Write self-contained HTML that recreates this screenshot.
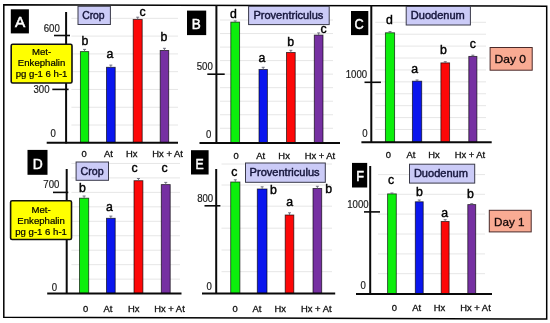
<!DOCTYPE html>
<html><head><meta charset="utf-8"><title>Met-Enkephalin</title>
<style>html,body{margin:0;padding:0;background:#fff;width:550px;height:323px;overflow:hidden}svg{display:block}text{font-family:"Liberation Sans",Arial,sans-serif}</style>
</head><body>
<svg width="550" height="323" viewBox="0 0 550 323">
<rect width="550" height="323" fill="#fff"/>
<path d="M3.8 4.8 L546.7 6.2 L546.7 319.1 L3.8 317.2 Z" fill="none" stroke="#000" stroke-width="1.5"/>
<line x1="71.40" y1="125.02" x2="178.00" y2="125.02" stroke="#e6e6e6" stroke-width="1" />
<line x1="71.40" y1="107.24" x2="178.00" y2="107.24" stroke="#e6e6e6" stroke-width="1" />
<line x1="71.40" y1="89.46" x2="178.00" y2="89.46" stroke="#e6e6e6" stroke-width="1" />
<line x1="71.40" y1="71.68" x2="178.00" y2="71.68" stroke="#e6e6e6" stroke-width="1" />
<line x1="71.40" y1="53.90" x2="178.00" y2="53.90" stroke="#e6e6e6" stroke-width="1" />
<line x1="71.40" y1="36.12" x2="178.00" y2="36.12" stroke="#e6e6e6" stroke-width="1" />
<line x1="71.40" y1="18.34" x2="178.00" y2="18.34" stroke="#e6e6e6" stroke-width="1" />
<rect x="80.40" y="51.60" width="8.30" height="91.00" fill="#0cef0c" stroke="rgba(0,0,0,0.7)" stroke-width="0.9" rx="0" />
<line x1="84.55" y1="49.40" x2="84.55" y2="51.60" stroke="#606070" stroke-width="0.85" />
<line x1="83.05" y1="49.40" x2="86.05" y2="49.40" stroke="#606070" stroke-width="0.85" />
<rect x="106.50" y="67.30" width="8.70" height="75.30" fill="#0a16ee" stroke="rgba(0,0,0,0.7)" stroke-width="0.9" rx="0" />
<line x1="110.85" y1="65.10" x2="110.85" y2="67.30" stroke="#606070" stroke-width="0.85" />
<line x1="109.35" y1="65.10" x2="112.35" y2="65.10" stroke="#606070" stroke-width="0.85" />
<rect x="133.20" y="19.40" width="9.00" height="123.20" fill="#fd0808" stroke="rgba(0,0,0,0.7)" stroke-width="0.9" rx="0" />
<line x1="137.70" y1="17.20" x2="137.70" y2="19.40" stroke="#606070" stroke-width="0.85" />
<line x1="136.20" y1="17.20" x2="139.20" y2="17.20" stroke="#606070" stroke-width="0.85" />
<rect x="160.20" y="50.50" width="8.50" height="92.10" fill="#7630a2" stroke="rgba(0,0,0,0.7)" stroke-width="0.9" rx="0" />
<line x1="164.45" y1="48.30" x2="164.45" y2="50.50" stroke="#606070" stroke-width="0.85" />
<line x1="162.95" y1="48.30" x2="165.95" y2="48.30" stroke="#606070" stroke-width="0.85" />
<line x1="66.10" y1="12.00" x2="66.10" y2="143.50" stroke="#0a0a0a" stroke-width="2" />
<line x1="46.70" y1="142.70" x2="178.00" y2="142.70" stroke="#0a0a0a" stroke-width="2" />
<line x1="54.00" y1="35.50" x2="70.00" y2="35.50" stroke="#0a0a0a" stroke-width="1.6" />
<line x1="52.30" y1="89.40" x2="68.60" y2="89.40" stroke="#0a0a0a" stroke-width="1.6" />
<text x="59.80" y="32.30" font-size="10.1" text-anchor="end" fill="#1a1a1a" textLength="16.05" lengthAdjust="spacingAndGlyphs"  stroke="#1a1a1a" stroke-width="0.18">600</text>
<text x="49.50" y="93.30" font-size="10.1" text-anchor="end" fill="#1a1a1a" textLength="16.05" lengthAdjust="spacingAndGlyphs"  stroke="#1a1a1a" stroke-width="0.18">300</text>
<text x="55.90" y="137.00" font-size="10.1" text-anchor="end" fill="#1a1a1a" textLength="5.35" lengthAdjust="spacingAndGlyphs"  stroke="#1a1a1a" stroke-width="0.18">0</text>
<rect x="10.80" y="9.30" width="18.10" height="24.10" fill="#000" stroke="none" stroke-width="0" rx="0" />
<text x="20.10" y="27.20" font-size="14.6" text-anchor="middle" fill="#fff" textLength="10.20" lengthAdjust="spacingAndGlyphs"  stroke="#fff" stroke-width="0.5">A</text>
<rect x="78.00" y="6.30" width="32.40" height="18.20" fill="#cbcbf7" stroke="#3a3a4a" stroke-width="1" rx="0" />
<text x="93.40" y="18.50" font-size="10.3" text-anchor="middle" fill="#16163c" textLength="22.50" lengthAdjust="spacingAndGlyphs"  stroke="#16163c" stroke-width="0.42">Crop</text>
<rect x="11.20" y="44.30" width="60.80" height="38.70" fill="#ffff00" stroke="#111" stroke-width="1.6" rx="1.5" />
<text x="41.60" y="54.80" font-size="9.6" text-anchor="middle" fill="#000"  stroke="#000" stroke-width="0.2">Met-</text>
<text x="41.60" y="65.90" font-size="9.6" text-anchor="middle" fill="#000"  stroke="#000" stroke-width="0.2">Enkephalin</text>
<text x="41.60" y="77.10" font-size="9.6" text-anchor="middle" fill="#000"  stroke="#000" stroke-width="0.2">pg g-1 6 h-1</text>
<text x="85.00" y="44.80" font-size="12.3" text-anchor="middle" fill="#000"  stroke="#000" stroke-width="0.4">b</text>
<text x="110.00" y="57.50" font-size="12.3" text-anchor="middle" fill="#000"  stroke="#000" stroke-width="0.4">a</text>
<text x="142.50" y="16.00" font-size="12.3" text-anchor="middle" fill="#000"  stroke="#000" stroke-width="0.4">c</text>
<text x="163.80" y="40.90" font-size="12.3" text-anchor="middle" fill="#000"  stroke="#000" stroke-width="0.4">b</text>
<text x="84.10" y="156.60" font-size="9.4" text-anchor="middle" fill="#111"  stroke="#111" stroke-width="0.32">0</text>
<text x="108.50" y="156.60" font-size="9.4" text-anchor="middle" fill="#111"  stroke="#111" stroke-width="0.32">At</text>
<text x="131.70" y="156.60" font-size="9.4" text-anchor="middle" fill="#111"  stroke="#111" stroke-width="0.32">Hx</text>
<text x="167.60" y="156.60" font-size="9.4" text-anchor="middle" fill="#111"  stroke="#111" stroke-width="0.32">Hx + At</text>
<line x1="220.00" y1="128.27" x2="333.00" y2="128.27" stroke="#e6e6e6" stroke-width="1" />
<line x1="220.00" y1="114.74" x2="333.00" y2="114.74" stroke="#e6e6e6" stroke-width="1" />
<line x1="220.00" y1="101.21" x2="333.00" y2="101.21" stroke="#e6e6e6" stroke-width="1" />
<line x1="220.00" y1="87.68" x2="333.00" y2="87.68" stroke="#e6e6e6" stroke-width="1" />
<line x1="220.00" y1="74.15" x2="333.00" y2="74.15" stroke="#e6e6e6" stroke-width="1" />
<line x1="220.00" y1="60.62" x2="333.00" y2="60.62" stroke="#e6e6e6" stroke-width="1" />
<line x1="220.00" y1="47.09" x2="333.00" y2="47.09" stroke="#e6e6e6" stroke-width="1" />
<line x1="220.00" y1="33.56" x2="333.00" y2="33.56" stroke="#e6e6e6" stroke-width="1" />
<line x1="220.00" y1="20.03" x2="333.00" y2="20.03" stroke="#e6e6e6" stroke-width="1" />
<rect x="230.80" y="22.10" width="8.80" height="120.70" fill="#0cef0c" stroke="rgba(0,0,0,0.7)" stroke-width="0.9" rx="0" />
<line x1="235.20" y1="20.90" x2="235.20" y2="22.10" stroke="#606070" stroke-width="0.85" />
<line x1="233.70" y1="20.90" x2="236.70" y2="20.90" stroke="#606070" stroke-width="0.85" />
<rect x="259.00" y="69.50" width="8.40" height="73.30" fill="#0a16ee" stroke="rgba(0,0,0,0.7)" stroke-width="0.9" rx="0" />
<line x1="263.20" y1="67.30" x2="263.20" y2="69.50" stroke="#606070" stroke-width="0.85" />
<line x1="261.70" y1="67.30" x2="264.70" y2="67.30" stroke="#606070" stroke-width="0.85" />
<rect x="286.50" y="52.50" width="8.70" height="90.30" fill="#fd0808" stroke="rgba(0,0,0,0.7)" stroke-width="0.9" rx="0" />
<line x1="290.85" y1="50.30" x2="290.85" y2="52.50" stroke="#606070" stroke-width="0.85" />
<line x1="289.35" y1="50.30" x2="292.35" y2="50.30" stroke="#606070" stroke-width="0.85" />
<rect x="314.30" y="35.10" width="8.70" height="107.70" fill="#7630a2" stroke="rgba(0,0,0,0.7)" stroke-width="0.9" rx="0" />
<line x1="318.65" y1="32.90" x2="318.65" y2="35.10" stroke="#606070" stroke-width="0.85" />
<line x1="317.15" y1="32.90" x2="320.15" y2="32.90" stroke="#606070" stroke-width="0.85" />
<line x1="216.40" y1="5.00" x2="216.40" y2="143.50" stroke="#0a0a0a" stroke-width="2" />
<line x1="199.50" y1="142.90" x2="340.00" y2="142.90" stroke="#0a0a0a" stroke-width="2" />
<line x1="207.30" y1="74.20" x2="224.70" y2="74.20" stroke="#0a0a0a" stroke-width="1.6" />
<text x="212.80" y="70.30" font-size="10.1" text-anchor="end" fill="#1a1a1a" textLength="16.05" lengthAdjust="spacingAndGlyphs"  stroke="#1a1a1a" stroke-width="0.18">500</text>
<text x="211.30" y="138.40" font-size="10.1" text-anchor="end" fill="#1a1a1a" textLength="5.35" lengthAdjust="spacingAndGlyphs"  stroke="#1a1a1a" stroke-width="0.18">0</text>
<rect x="187.00" y="10.60" width="19.20" height="24.50" fill="#000" stroke="none" stroke-width="0" rx="0" />
<text x="196.20" y="28.70" font-size="14.6" text-anchor="middle" fill="#fff" textLength="9.00" lengthAdjust="spacingAndGlyphs"  stroke="#fff" stroke-width="0.5">B</text>
<rect x="248.60" y="6.30" width="80.60" height="18.30" fill="#cbcbf7" stroke="#3a3a4a" stroke-width="1" rx="0" />
<text x="288.40" y="18.50" font-size="10.3" text-anchor="middle" fill="#16163c" textLength="70.00" lengthAdjust="spacingAndGlyphs"  stroke="#16163c" stroke-width="0.42">Proventriculus</text>
<text x="233.40" y="18.00" font-size="12.3" text-anchor="middle" fill="#000"  stroke="#000" stroke-width="0.4">d</text>
<text x="261.80" y="62.00" font-size="12.3" text-anchor="middle" fill="#000"  stroke="#000" stroke-width="0.4">a</text>
<text x="290.70" y="46.00" font-size="12.3" text-anchor="middle" fill="#000"  stroke="#000" stroke-width="0.4">b</text>
<text x="323.50" y="32.60" font-size="12.3" text-anchor="middle" fill="#000"  stroke="#000" stroke-width="0.4">c</text>
<text x="236.20" y="158.60" font-size="9.4" text-anchor="middle" fill="#111"  stroke="#111" stroke-width="0.32">0</text>
<text x="260.80" y="158.60" font-size="9.4" text-anchor="middle" fill="#111"  stroke="#111" stroke-width="0.32">At</text>
<text x="284.10" y="158.60" font-size="9.4" text-anchor="middle" fill="#111"  stroke="#111" stroke-width="0.32">Hx</text>
<text x="319.90" y="158.60" font-size="9.4" text-anchor="middle" fill="#111"  stroke="#111" stroke-width="0.32">Hx + At</text>
<line x1="375.30" y1="129.49" x2="486.00" y2="129.49" stroke="#e6e6e6" stroke-width="1" />
<line x1="375.30" y1="117.58" x2="486.00" y2="117.58" stroke="#e6e6e6" stroke-width="1" />
<line x1="375.30" y1="105.67" x2="486.00" y2="105.67" stroke="#e6e6e6" stroke-width="1" />
<line x1="375.30" y1="93.76" x2="486.00" y2="93.76" stroke="#e6e6e6" stroke-width="1" />
<line x1="375.30" y1="81.85" x2="486.00" y2="81.85" stroke="#e6e6e6" stroke-width="1" />
<line x1="375.30" y1="69.94" x2="486.00" y2="69.94" stroke="#e6e6e6" stroke-width="1" />
<line x1="375.30" y1="58.03" x2="486.00" y2="58.03" stroke="#e6e6e6" stroke-width="1" />
<line x1="375.30" y1="46.12" x2="486.00" y2="46.12" stroke="#e6e6e6" stroke-width="1" />
<line x1="375.30" y1="34.21" x2="486.00" y2="34.21" stroke="#e6e6e6" stroke-width="1" />
<line x1="375.30" y1="22.30" x2="486.00" y2="22.30" stroke="#e6e6e6" stroke-width="1" />
<rect x="385.40" y="32.80" width="9.20" height="109.40" fill="#0cef0c" stroke="rgba(0,0,0,0.7)" stroke-width="0.9" rx="0" />
<line x1="390.00" y1="31.60" x2="390.00" y2="32.80" stroke="#606070" stroke-width="0.85" />
<line x1="388.50" y1="31.60" x2="391.50" y2="31.60" stroke="#606070" stroke-width="0.85" />
<rect x="412.40" y="81.20" width="9.30" height="61.00" fill="#0a16ee" stroke="rgba(0,0,0,0.7)" stroke-width="0.9" rx="0" />
<line x1="417.05" y1="80.00" x2="417.05" y2="81.20" stroke="#606070" stroke-width="0.85" />
<line x1="415.55" y1="80.00" x2="418.55" y2="80.00" stroke="#606070" stroke-width="0.85" />
<rect x="440.90" y="62.90" width="8.70" height="79.30" fill="#fd0808" stroke="rgba(0,0,0,0.7)" stroke-width="0.9" rx="0" />
<line x1="445.25" y1="61.70" x2="445.25" y2="62.90" stroke="#606070" stroke-width="0.85" />
<line x1="443.75" y1="61.70" x2="446.75" y2="61.70" stroke="#606070" stroke-width="0.85" />
<rect x="468.80" y="56.40" width="8.10" height="85.80" fill="#7630a2" stroke="rgba(0,0,0,0.7)" stroke-width="0.9" rx="0" />
<line x1="472.85" y1="55.20" x2="472.85" y2="56.40" stroke="#606070" stroke-width="0.85" />
<line x1="471.35" y1="55.20" x2="474.35" y2="55.20" stroke="#606070" stroke-width="0.85" />
<line x1="371.30" y1="5.00" x2="371.30" y2="143.00" stroke="#0a0a0a" stroke-width="2" />
<line x1="361.40" y1="142.30" x2="491.70" y2="142.30" stroke="#0a0a0a" stroke-width="2" />
<line x1="364.50" y1="82.30" x2="380.90" y2="82.30" stroke="#0a0a0a" stroke-width="1.6" />
<text x="367.10" y="78.30" font-size="10.1" text-anchor="end" fill="#1a1a1a" textLength="21.40" lengthAdjust="spacingAndGlyphs"  stroke="#1a1a1a" stroke-width="0.18">1000</text>
<text x="367.50" y="137.00" font-size="10.1" text-anchor="end" fill="#1a1a1a" textLength="5.35" lengthAdjust="spacingAndGlyphs"  stroke="#1a1a1a" stroke-width="0.18">0</text>
<rect x="351.00" y="11.00" width="17.30" height="24.10" fill="#000" stroke="none" stroke-width="0" rx="0" />
<text x="359.20" y="29.10" font-size="14.6" text-anchor="middle" fill="#fff" textLength="9.20" lengthAdjust="spacingAndGlyphs"  stroke="#fff" stroke-width="0.5">C</text>
<rect x="406.20" y="6.50" width="64.20" height="18.50" fill="#cbcbf7" stroke="#3a3a4a" stroke-width="1" rx="0" />
<text x="437.80" y="18.90" font-size="10.3" text-anchor="middle" fill="#16163c" textLength="54.00" lengthAdjust="spacingAndGlyphs"  stroke="#16163c" stroke-width="0.42">Duodenum</text>
<rect x="490.10" y="47.50" width="42.10" height="22.70" fill="#f9ab93" stroke="#4a2a2a" stroke-width="1" rx="0" />
<text x="510.30" y="62.50" font-size="11" text-anchor="middle" fill="#140808" textLength="31.50" lengthAdjust="spacingAndGlyphs"  stroke="#140808" stroke-width="0.3">Day 0</text>
<text x="389.50" y="24.00" font-size="12.3" text-anchor="middle" fill="#000"  stroke="#000" stroke-width="0.4">d</text>
<text x="414.60" y="72.80" font-size="12.3" text-anchor="middle" fill="#000"  stroke="#000" stroke-width="0.4">a</text>
<text x="443.40" y="53.60" font-size="12.3" text-anchor="middle" fill="#000"  stroke="#000" stroke-width="0.4">b</text>
<text x="472.80" y="48.00" font-size="12.3" text-anchor="middle" fill="#000"  stroke="#000" stroke-width="0.4">c</text>
<text x="388.40" y="158.40" font-size="9.4" text-anchor="middle" fill="#111"  stroke="#111" stroke-width="0.32">0</text>
<text x="411.00" y="158.40" font-size="9.4" text-anchor="middle" fill="#111"  stroke="#111" stroke-width="0.32">At</text>
<text x="433.90" y="158.40" font-size="9.4" text-anchor="middle" fill="#111"  stroke="#111" stroke-width="0.32">Hx</text>
<text x="469.90" y="158.40" font-size="9.4" text-anchor="middle" fill="#111"  stroke="#111" stroke-width="0.32">Hx + At</text>
<line x1="71.40" y1="279.14" x2="180.00" y2="279.14" stroke="#e6e6e6" stroke-width="1" />
<line x1="71.40" y1="264.68" x2="180.00" y2="264.68" stroke="#e6e6e6" stroke-width="1" />
<line x1="71.40" y1="250.22" x2="180.00" y2="250.22" stroke="#e6e6e6" stroke-width="1" />
<line x1="71.40" y1="235.76" x2="180.00" y2="235.76" stroke="#e6e6e6" stroke-width="1" />
<line x1="71.40" y1="221.30" x2="180.00" y2="221.30" stroke="#e6e6e6" stroke-width="1" />
<line x1="71.40" y1="206.84" x2="180.00" y2="206.84" stroke="#e6e6e6" stroke-width="1" />
<line x1="71.40" y1="192.38" x2="180.00" y2="192.38" stroke="#e6e6e6" stroke-width="1" />
<line x1="71.40" y1="177.92" x2="180.00" y2="177.92" stroke="#e6e6e6" stroke-width="1" />
<line x1="71.40" y1="163.46" x2="180.00" y2="163.46" stroke="#e6e6e6" stroke-width="1" />
<rect x="79.50" y="198.20" width="9.20" height="95.10" fill="#0cef0c" stroke="rgba(0,0,0,0.7)" stroke-width="0.9" rx="0" />
<line x1="84.10" y1="196.00" x2="84.10" y2="198.20" stroke="#606070" stroke-width="0.85" />
<line x1="82.60" y1="196.00" x2="85.60" y2="196.00" stroke="#606070" stroke-width="0.85" />
<rect x="106.50" y="218.30" width="8.70" height="75.00" fill="#0a16ee" stroke="rgba(0,0,0,0.7)" stroke-width="0.9" rx="0" />
<line x1="110.85" y1="216.10" x2="110.85" y2="218.30" stroke="#606070" stroke-width="0.85" />
<line x1="109.35" y1="216.10" x2="112.35" y2="216.10" stroke="#606070" stroke-width="0.85" />
<rect x="134.00" y="180.70" width="8.90" height="112.60" fill="#fd0808" stroke="rgba(0,0,0,0.7)" stroke-width="0.9" rx="0" />
<line x1="138.45" y1="178.50" x2="138.45" y2="180.70" stroke="#606070" stroke-width="0.85" />
<line x1="136.95" y1="178.50" x2="139.95" y2="178.50" stroke="#606070" stroke-width="0.85" />
<rect x="161.30" y="184.60" width="8.90" height="108.70" fill="#7630a2" stroke="rgba(0,0,0,0.7)" stroke-width="0.9" rx="0" />
<line x1="165.75" y1="182.40" x2="165.75" y2="184.60" stroke="#606070" stroke-width="0.85" />
<line x1="164.25" y1="182.40" x2="167.25" y2="182.40" stroke="#606070" stroke-width="0.85" />
<line x1="66.70" y1="169.00" x2="66.70" y2="294.00" stroke="#0a0a0a" stroke-width="2" />
<line x1="47.20" y1="293.40" x2="181.50" y2="293.40" stroke="#0a0a0a" stroke-width="2" />
<line x1="53.00" y1="192.40" x2="68.30" y2="192.40" stroke="#0a0a0a" stroke-width="1.6" />
<text x="59.40" y="187.70" font-size="10.1" text-anchor="end" fill="#1a1a1a" textLength="16.05" lengthAdjust="spacingAndGlyphs"  stroke="#1a1a1a" stroke-width="0.18">700</text>
<text x="57.10" y="290.90" font-size="10.1" text-anchor="end" fill="#1a1a1a" textLength="5.35" lengthAdjust="spacingAndGlyphs"  stroke="#1a1a1a" stroke-width="0.18">0</text>
<rect x="27.50" y="149.90" width="20.00" height="24.90" fill="#000" stroke="none" stroke-width="0" rx="0" />
<text x="37.70" y="168.50" font-size="14.6" text-anchor="middle" fill="#fff" textLength="10.00" lengthAdjust="spacingAndGlyphs"  stroke="#fff" stroke-width="0.5">D</text>
<rect x="76.10" y="162.00" width="32.40" height="18.30" fill="#cbcbf7" stroke="#3a3a4a" stroke-width="1" rx="0" />
<text x="92.10" y="174.70" font-size="10.3" text-anchor="middle" fill="#16163c" textLength="23.00" lengthAdjust="spacingAndGlyphs"  stroke="#16163c" stroke-width="0.42">Crop</text>
<rect x="10.60" y="200.80" width="60.90" height="38.70" fill="#ffff00" stroke="#111" stroke-width="1.6" rx="1.5" />
<text x="41.10" y="212.80" font-size="9.6" text-anchor="middle" fill="#000"  stroke="#000" stroke-width="0.2">Met-</text>
<text x="41.10" y="223.90" font-size="9.6" text-anchor="middle" fill="#000"  stroke="#000" stroke-width="0.2">Enkephalin</text>
<text x="41.10" y="235.10" font-size="9.6" text-anchor="middle" fill="#000"  stroke="#000" stroke-width="0.2">pg g-1 6 h-1</text>
<text x="82.30" y="192.30" font-size="12.3" text-anchor="middle" fill="#000"  stroke="#000" stroke-width="0.4">b</text>
<text x="109.30" y="211.20" font-size="12.3" text-anchor="middle" fill="#000"  stroke="#000" stroke-width="0.4">a</text>
<text x="134.50" y="172.40" font-size="12.3" text-anchor="middle" fill="#000"  stroke="#000" stroke-width="0.4">c</text>
<text x="164.60" y="172.40" font-size="12.3" text-anchor="middle" fill="#000"  stroke="#000" stroke-width="0.4">c</text>
<text x="85.50" y="311.80" font-size="9.4" text-anchor="middle" fill="#111"  stroke="#111" stroke-width="0.32">0</text>
<text x="108.00" y="311.80" font-size="9.4" text-anchor="middle" fill="#111"  stroke="#111" stroke-width="0.32">At</text>
<text x="133.70" y="311.80" font-size="9.4" text-anchor="middle" fill="#111"  stroke="#111" stroke-width="0.32">Hx</text>
<text x="169.50" y="311.80" font-size="9.4" text-anchor="middle" fill="#111"  stroke="#111" stroke-width="0.32">Hx + At</text>
<line x1="221.50" y1="271.70" x2="332.00" y2="271.70" stroke="#e6e6e6" stroke-width="1" />
<line x1="221.50" y1="250.00" x2="332.00" y2="250.00" stroke="#e6e6e6" stroke-width="1" />
<line x1="221.50" y1="228.20" x2="332.00" y2="228.20" stroke="#e6e6e6" stroke-width="1" />
<line x1="221.50" y1="206.20" x2="332.00" y2="206.20" stroke="#e6e6e6" stroke-width="1" />
<line x1="221.50" y1="185.00" x2="332.00" y2="185.00" stroke="#e6e6e6" stroke-width="1" />
<line x1="221.50" y1="164.00" x2="332.00" y2="164.00" stroke="#e6e6e6" stroke-width="1" />
<rect x="230.70" y="182.00" width="9.20" height="111.30" fill="#0cef0c" stroke="rgba(0,0,0,0.7)" stroke-width="0.9" rx="0" />
<line x1="235.30" y1="179.80" x2="235.30" y2="182.00" stroke="#606070" stroke-width="0.85" />
<line x1="233.80" y1="179.80" x2="236.80" y2="179.80" stroke="#606070" stroke-width="0.85" />
<rect x="257.30" y="189.00" width="9.70" height="104.30" fill="#0a16ee" stroke="rgba(0,0,0,0.7)" stroke-width="0.9" rx="0" />
<line x1="262.15" y1="186.80" x2="262.15" y2="189.00" stroke="#606070" stroke-width="0.85" />
<line x1="260.65" y1="186.80" x2="263.65" y2="186.80" stroke="#606070" stroke-width="0.85" />
<rect x="285.20" y="215.00" width="8.60" height="78.30" fill="#fd0808" stroke="rgba(0,0,0,0.7)" stroke-width="0.9" rx="0" />
<line x1="289.50" y1="212.80" x2="289.50" y2="215.00" stroke="#606070" stroke-width="0.85" />
<line x1="288.00" y1="212.80" x2="291.00" y2="212.80" stroke="#606070" stroke-width="0.85" />
<rect x="313.00" y="188.50" width="8.70" height="104.80" fill="#7630a2" stroke="rgba(0,0,0,0.7)" stroke-width="0.9" rx="0" />
<line x1="317.35" y1="186.30" x2="317.35" y2="188.50" stroke="#606070" stroke-width="0.85" />
<line x1="315.85" y1="186.30" x2="318.85" y2="186.30" stroke="#606070" stroke-width="0.85" />
<line x1="216.20" y1="169.00" x2="216.20" y2="294.00" stroke="#0a0a0a" stroke-width="2" />
<line x1="202.00" y1="293.40" x2="335.20" y2="293.40" stroke="#0a0a0a" stroke-width="2" />
<line x1="204.50" y1="205.80" x2="220.40" y2="205.80" stroke="#0a0a0a" stroke-width="1.6" />
<text x="213.20" y="202.10" font-size="10.1" text-anchor="end" fill="#1a1a1a" textLength="16.05" lengthAdjust="spacingAndGlyphs"  stroke="#1a1a1a" stroke-width="0.18">800</text>
<text x="211.80" y="290.10" font-size="10.1" text-anchor="end" fill="#1a1a1a" textLength="5.35" lengthAdjust="spacingAndGlyphs"  stroke="#1a1a1a" stroke-width="0.18">0</text>
<rect x="191.00" y="150.20" width="17.60" height="24.30" fill="#000" stroke="none" stroke-width="0" rx="0" />
<text x="199.70" y="168.50" font-size="14.6" text-anchor="middle" fill="#fff" textLength="8.20" lengthAdjust="spacingAndGlyphs"  stroke="#fff" stroke-width="0.5">E</text>
<rect x="245.50" y="163.00" width="79.80" height="19.30" fill="#cbcbf7" stroke="#3a3a4a" stroke-width="1" rx="0" />
<text x="284.60" y="176.40" font-size="10.3" text-anchor="middle" fill="#16163c" textLength="70.00" lengthAdjust="spacingAndGlyphs"  stroke="#16163c" stroke-width="0.42">Proventriculus</text>
<text x="234.30" y="176.30" font-size="12.3" text-anchor="middle" fill="#000"  stroke="#000" stroke-width="0.4">c</text>
<text x="273.50" y="194.40" font-size="12.3" text-anchor="middle" fill="#000"  stroke="#000" stroke-width="0.4">b</text>
<text x="289.60" y="205.60" font-size="12.3" text-anchor="middle" fill="#000"  stroke="#000" stroke-width="0.4">a</text>
<text x="328.70" y="193.00" font-size="12.3" text-anchor="middle" fill="#000"  stroke="#000" stroke-width="0.4">b</text>
<text x="235.00" y="311.80" font-size="9.4" text-anchor="middle" fill="#111"  stroke="#111" stroke-width="0.32">0</text>
<text x="257.00" y="311.80" font-size="9.4" text-anchor="middle" fill="#111"  stroke="#111" stroke-width="0.32">At</text>
<text x="280.30" y="311.80" font-size="9.4" text-anchor="middle" fill="#111"  stroke="#111" stroke-width="0.32">Hx</text>
<text x="316.30" y="311.80" font-size="9.4" text-anchor="middle" fill="#111"  stroke="#111" stroke-width="0.32">Hx + At</text>
<line x1="378.00" y1="273.70" x2="485.00" y2="273.70" stroke="#e6e6e6" stroke-width="1" />
<line x1="378.00" y1="253.90" x2="485.00" y2="253.90" stroke="#e6e6e6" stroke-width="1" />
<line x1="378.00" y1="234.00" x2="485.00" y2="234.00" stroke="#e6e6e6" stroke-width="1" />
<line x1="378.00" y1="214.10" x2="485.00" y2="214.10" stroke="#e6e6e6" stroke-width="1" />
<line x1="378.00" y1="194.30" x2="485.00" y2="194.30" stroke="#e6e6e6" stroke-width="1" />
<line x1="378.00" y1="174.60" x2="485.00" y2="174.60" stroke="#e6e6e6" stroke-width="1" />
<rect x="387.60" y="193.90" width="8.70" height="99.90" fill="#0cef0c" stroke="rgba(0,0,0,0.7)" stroke-width="0.9" rx="0" />
<line x1="391.95" y1="193.00" x2="391.95" y2="193.90" stroke="#606070" stroke-width="0.85" />
<line x1="390.45" y1="193.00" x2="393.45" y2="193.00" stroke="#606070" stroke-width="0.85" />
<rect x="415.30" y="201.80" width="7.90" height="92.00" fill="#0a16ee" stroke="rgba(0,0,0,0.7)" stroke-width="0.9" rx="0" />
<line x1="419.25" y1="200.00" x2="419.25" y2="201.80" stroke="#606070" stroke-width="0.85" />
<line x1="417.75" y1="200.00" x2="420.75" y2="200.00" stroke="#606070" stroke-width="0.85" />
<rect x="441.20" y="221.50" width="7.90" height="72.30" fill="#fd0808" stroke="rgba(0,0,0,0.7)" stroke-width="0.9" rx="0" />
<line x1="445.15" y1="219.70" x2="445.15" y2="221.50" stroke="#606070" stroke-width="0.85" />
<line x1="443.65" y1="219.70" x2="446.65" y2="219.70" stroke="#606070" stroke-width="0.85" />
<rect x="467.80" y="204.60" width="7.90" height="89.20" fill="#7630a2" stroke="rgba(0,0,0,0.7)" stroke-width="0.9" rx="0" />
<line x1="471.75" y1="203.70" x2="471.75" y2="204.60" stroke="#606070" stroke-width="0.85" />
<line x1="470.25" y1="203.70" x2="473.25" y2="203.70" stroke="#606070" stroke-width="0.85" />
<line x1="370.20" y1="166.00" x2="370.20" y2="294.50" stroke="#0a0a0a" stroke-width="2" />
<line x1="356.00" y1="293.90" x2="492.00" y2="293.90" stroke="#0a0a0a" stroke-width="2" />
<line x1="364.00" y1="211.90" x2="380.00" y2="211.90" stroke="#0a0a0a" stroke-width="1.6" />
<text x="368.60" y="208.30" font-size="10.1" text-anchor="end" fill="#1a1a1a" textLength="21.40" lengthAdjust="spacingAndGlyphs"  stroke="#1a1a1a" stroke-width="0.18">1000</text>
<text x="365.80" y="288.70" font-size="10.1" text-anchor="end" fill="#1a1a1a" textLength="5.35" lengthAdjust="spacingAndGlyphs"  stroke="#1a1a1a" stroke-width="0.18">0</text>
<rect x="352.00" y="162.90" width="15.20" height="24.60" fill="#000" stroke="none" stroke-width="0" rx="0" />
<text x="360.20" y="181.30" font-size="14.6" text-anchor="middle" fill="#fff" textLength="7.80" lengthAdjust="spacingAndGlyphs"  stroke="#fff" stroke-width="0.5">F</text>
<rect x="409.50" y="164.20" width="65.20" height="18.90" fill="#cbcbf7" stroke="#3a3a4a" stroke-width="1" rx="0" />
<text x="440.90" y="177.10" font-size="10.3" text-anchor="middle" fill="#16163c" textLength="54.00" lengthAdjust="spacingAndGlyphs"  stroke="#16163c" stroke-width="0.42">Duodenum</text>
<rect x="489.30" y="210.30" width="41.90" height="21.60" fill="#f9ab93" stroke="#4a2a2a" stroke-width="1" rx="0" />
<text x="509.25" y="225.60" font-size="11" text-anchor="middle" fill="#140808" textLength="30.50" lengthAdjust="spacingAndGlyphs"  stroke="#140808" stroke-width="0.3">Day 1</text>
<text x="391.00" y="184.00" font-size="12.3" text-anchor="middle" fill="#000"  stroke="#000" stroke-width="0.4">c</text>
<text x="419.40" y="195.50" font-size="12.3" text-anchor="middle" fill="#000"  stroke="#000" stroke-width="0.4">b</text>
<text x="444.60" y="216.90" font-size="12.3" text-anchor="middle" fill="#000"  stroke="#000" stroke-width="0.4">a</text>
<text x="470.50" y="198.20" font-size="12.3" text-anchor="middle" fill="#000"  stroke="#000" stroke-width="0.4">b</text>
<text x="394.30" y="311.30" font-size="9.4" text-anchor="middle" fill="#111"  stroke="#111" stroke-width="0.32">0</text>
<text x="416.70" y="311.30" font-size="9.4" text-anchor="middle" fill="#111"  stroke="#111" stroke-width="0.32">At</text>
<text x="439.50" y="311.30" font-size="9.4" text-anchor="middle" fill="#111"  stroke="#111" stroke-width="0.32">Hx</text>
<text x="475.50" y="311.30" font-size="9.4" text-anchor="middle" fill="#111"  stroke="#111" stroke-width="0.32">Hx + At</text>
</svg>
</body></html>
